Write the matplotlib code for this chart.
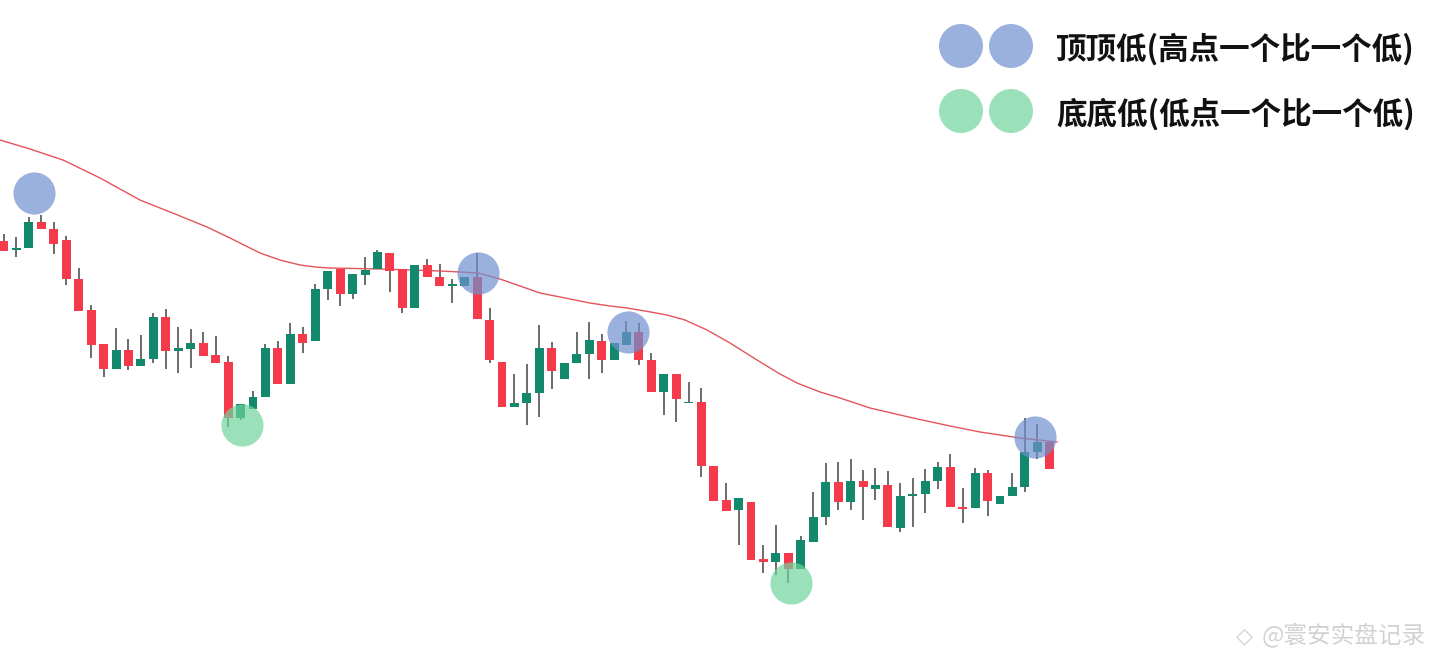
import matplotlib
matplotlib.use('Agg')
import matplotlib.pyplot as plt
from matplotlib.patches import Ellipse
import numpy as np

plt.rcParams['font.family'] = ['Noto Sans CJK SC', 'DejaVu Sans']

# candle values (screen-y units, smaller = higher price)
opens = [241, 250, 248, 222, 229, 240, 279, 310, 344, 369,
         350, 366, 359, 317, 351, 349, 343, 355, 362, 418,
         409, 397, 348, 384, 334, 341, 289, 269, 294, 275,
         269, 253, 269, 308, 265, 277, 286, 286, 277, 320,
         362, 407, 403, 393, 348, 379, 363, 354, 341, 360,
         345, 332, 360, 392, 374, 401.5, 402, 466, 500, 510,
         502, 559, 562, 553, 569, 542, 517, 482, 502, 481,
         489, 485, 528, 496, 494, 481, 467, 507, 508, 473,
         504, 496, 487, 452, 442]
closes = [251, 248, 222, 229, 244, 279, 311, 345, 369, 350,
          366, 359, 317, 351, 348, 343, 356, 363, 418, 404,
          397, 348, 384, 334, 343, 289, 271, 294, 274, 270,
          252, 271, 308, 265, 277, 286, 284, 277, 319, 360,
          407, 403, 393, 348, 371, 363, 354, 340, 360, 343,
          332, 360, 392, 374, 399, 400.5, 466, 501, 511, 498,
          560, 562, 553, 569, 540, 517, 482, 502, 481, 487,
          485, 527, 496, 494, 481, 467, 507, 509, 473, 501,
          496, 487, 452, 442, 469]
highs = [234, 237, 217, 215, 222, 236, 268, 305, 344, 328,
         339, 335, 313, 309, 327, 329, 332, 336, 356, 404,
         391, 344, 341, 323, 327, 284, 271, 269, 274, 257,
         250, 253, 269, 265, 259, 264, 279, 277, 253, 308,
         362, 374, 364, 325, 342, 363, 332, 322, 334, 343,
         321, 323, 353, 374, 374, 382, 388, 466, 483, 498,
         502, 545, 525, 553, 536, 492, 463, 462, 459, 470,
         468, 471, 483, 478, 469, 462, 454, 488, 468, 470,
         496, 473, 418, 424, 442]
lows = [251, 257, 248, 229, 254, 285, 311, 358, 377, 369,
        370, 366, 363, 369, 373, 368, 356, 363, 427, 420,
        409, 397, 384, 384, 353, 341, 300, 306, 299, 285,
        269, 292, 313, 308, 277, 286, 303, 286, 319, 363,
        407, 407, 425, 417, 389, 379, 363, 379, 373, 360,
        345, 365, 392, 415, 422, 401.5, 477, 501, 511, 545,
        560, 573, 575, 583, 569, 542, 525, 510, 510, 520,
        500, 527, 532, 527, 513, 489, 507, 523, 508, 516,
        504, 496, 492, 459, 469]

# moving average line, read at screen x positions
ma_px = [0, 30, 63, 100, 140, 180, 207, 230, 260, 280, 300, 315, 330, 380,
         410, 440, 460, 478, 500, 520, 540, 565, 590, 610, 627, 645, 667,
         685, 707, 730, 757, 780, 797, 820, 840, 870, 913, 950, 980, 1000,
         1020, 1057]
ma_val = [140, 149, 160, 178, 200, 216, 227, 238, 253, 260, 265, 267, 268, 269,
          270, 271, 272, 273, 279, 286, 293, 298, 303, 306, 308, 311, 315,
          320, 330, 343, 360, 374, 383, 392, 398, 408, 418, 426, 432, 435,
          438, 442]

# swing markers (screen x, level)
top_px = [34, 478, 628, 1035]
top_val = [193, 273, 332, 437]
bot_px = [242, 791]
bot_val = [425, 583]

legend_top = '顶顶低(高点一个比一个低)'
legend_bot = '底底低(低点一个比一个低)'
watermark = '@寰安实盘记录'

RED = '#F43A4B'
GREEN = '#12896C'
BLUE_C = '#6F90CF'
GREEN_C = '#6FD39C'

STEP = 12.45   # pixels between candles
X0 = 4         # first candle centre

def to_idx(px):
    return (np.asarray(px, dtype=float) - X0) / STEP

o = np.array(opens)
c = np.array(closes)
h = np.array(highs)
l = np.array(lows)
x = np.arange(len(o))
down = c > o   # screen y grows downward
cols = np.where(down, RED, GREEN)

fig = plt.figure(figsize=(14.4, 6.62), dpi=100)
ax = fig.add_axes([0, 0, 1, 1])
ax.set_xlim(to_idx(0), to_idx(1440))
ax.set_ylim(662, 0)
ax.axis('off')

ax.vlines(x, h, l, color='#444444', lw=1.1, zorder=1)
height = np.where(np.abs(c - o) < 1.5, 1.5, c - o)
ax.bar(x, height, bottom=o, width=0.72, color=cols, zorder=2)

ax.plot(to_idx(ma_px), ma_val, color='#E5545C', lw=1.0, zorder=1.5)

ax.scatter(to_idx(top_px), top_val, s=920, color=BLUE_C, alpha=0.7, lw=0, zorder=3)
ax.scatter(to_idx(bot_px), bot_val, s=920, color=GREEN_C, alpha=0.7, lw=0, zorder=3)

# legend
for yy, col, txt in [(46, BLUE_C, legend_top), (111, GREEN_C, legend_bot)]:
    for xx in (961, 1011):
        fig.add_artist(Ellipse((xx / 1440, 1 - yy / 662), 44 / 1440, 44 / 662,
                               transform=fig.transFigure, color=col,
                               alpha=0.7, lw=0))
    fig.text(1056 / 1440, 1 - (yy + 3) / 662, txt, fontsize=22, fontweight='bold',
             color='#111111', va='center', ha='left')

# watermark
fig.text(1245 / 1440, 1 - 636 / 662, '◇', fontsize=16, color='#cfcfcf',
         ha='center', va='center', family=['DejaVu Sans'])
fig.text(1262 / 1440, 1 - 636 / 662, watermark, fontsize=17, color='#d2d2d2',
         ha='left', va='center')

fig.savefig('out.png', dpi=100)
